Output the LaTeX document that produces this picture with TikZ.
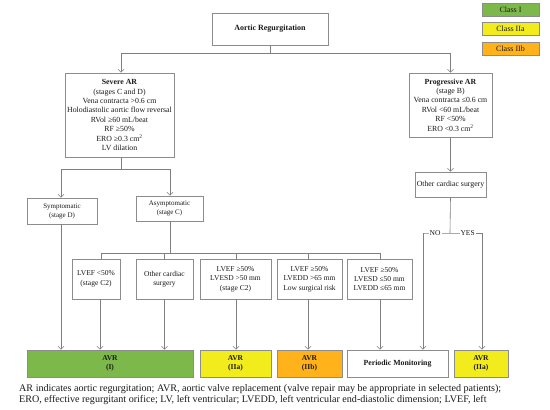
\documentclass[tikz,border=0pt]{standalone}
\usepackage{fontspec}
\setmainfont{Liberation Serif}
\usetikzlibrary{arrows.meta,calc}
\definecolor{cI}{HTML}{7DB94A}
\definecolor{cIIa}{HTML}{F2EC1C}
\definecolor{cIIb}{HTML}{FFB21A}
\definecolor{ln}{HTML}{7F7F7F}
\definecolor{bd}{HTML}{8C8C8C}
\definecolor{tx}{HTML}{1A1A1A}
\begin{document}
\begin{tikzpicture}[x=1pt,y=-1pt,
  box/.style={draw=bd,line width=0.7pt,fill=white,align=center,inner sep=1pt,
    font=\fontsize{7.5}{9.4}\selectfont,text=tx},
  sbox/.style={box,font=\fontsize{7.8}{9.4}\selectfont},
  tbox/.style={box,font=\fontsize{7}{9}\selectfont},
  lbox/.style={box,font=\fontsize{8}{9}\selectfont,minimum width=57,minimum height=13},
  conn/.style={draw=ln,line width=0.6pt},
  arr/.style={conn,-{Straight Barb[length=3pt,width=6pt]}},
  lab/.style={fill=white,inner sep=1pt,font=\fontsize{7.5}{8}\selectfont,text=tx},
]
\useasboundingbox[fill=white] (0,0) rectangle (550,410);

% legend
\node[lbox,fill=cI] (l1) at (510.5,9.5) {Class I};
\node[lbox,fill=cIIa] (l2) at (510.5,28.5) {Class IIa};
\node[lbox,fill=cIIb] (l3) at (510.5,48.5) {Class IIb};

% top
\node[box,font=\fontsize{8}{9.4}\selectfont,minimum width=116,minimum height=32] (ar) at (270,29) {\textbf{Aortic Regurgitation}};
\node[sbox,minimum width=109,minimum height=84] (sev) at (119.5,115)
 {\textbf{Severe AR}\\(stages C and D)\\Vena contracta >0.6 cm\\Holodiastolic aortic flow reversal\\RVol ≥60 mL/beat\\RF ≥50\%\\ERO ≥0.3 cm\textsuperscript{2}\\LV dilation};
\node[sbox,minimum width=83,minimum height=64] (prog) at (450.5,105)
 {\textbf{Progressive AR}\\(stage B)\\Vena contracta ≤0.6 cm\\RVol <60 mL/beat\\RF <50\%\\ERO <0.3 cm\textsuperscript{2}};
\node[sbox,minimum width=71,minimum height=25] (ocsr) at (450.5,184.5) {Other cardiac surgery};

\node[tbox,minimum width=70,minimum height=26] (sym) at (62,211) {Symptomatic\\(stage D)};
\node[tbox,minimum width=67,minimum height=25] (asym) at (169.5,208.5) {Asymptomatic\\(stage C)};

% middle row
\node[box,minimum width=48,minimum height=40] (c1) at (96,279) {LVEF <50\%\\(stage C2)};
\node[box,minimum width=57,minimum height=40] (c2) at (164.5,279) {Other cardiac\\surgery};
\node[box,minimum width=71,minimum height=40] (c3) at (235.5,279) {LVEF ≥50\%\\LVESD >50 mm\\(stage C2)};
\node[box,minimum width=65,minimum height=40] (c4) at (309.5,279) {LVEF ≥50\%\\LVEDD >65 mm\\Low surgical risk};
\node[box,minimum width=65,minimum height=40] (c5) at (379.5,279) {LVEF ≥50\%\\LVESD ≤50 mm\\LVEDD ≤65 mm};

% bottom row
\node[box,fill=cI,minimum width=166,minimum height=27] (b1) at (110,363.5) {\textbf{AVR}\\\textbf{(I)}};
\node[box,fill=cIIa,minimum width=71,minimum height=27] (b2) at (235.5,363.5) {\textbf{AVR}\\\textbf{(IIa)}};
\node[box,fill=cIIb,minimum width=65,minimum height=27] (b3) at (309.5,363.5) {\textbf{AVR}\\\textbf{(IIb)}};
\node[box,font=\fontsize{7.8}{9.4}\selectfont,minimum width=101,minimum height=27] (b4) at (397.5,363.5) {\textbf{Periodic Monitoring}};
\node[box,fill=cIIa,minimum width=54,minimum height=27] (b5) at (481,363.5) {\textbf{AVR}\\\textbf{(IIa)}};

% junction coordinates
\coordinate (j0) at (270,53);
\coordinate (j1) at (121,169);
\coordinate (j2) at (170,253);
\coordinate (j3) at (450,233);
\coordinate (jno) at (423,233);
\coordinate (jyes) at (482,233);

% connectors
\draw[conn] (ar.south) -- (j0);
\draw[arr] (j0) -| ([xshift=1.5pt]sev.north);
\draw[arr] (j0) -| (prog.north);
\draw[conn] (sev.south -| j1) -- (j1);
\draw[arr] (j1) -| ([xshift=-1pt]sym.north);
\draw[arr] (j1) -| ([xshift=0.5pt]asym.north);
\draw[arr] (prog.south) -- (ocsr.north);

\draw[conn] (asym.south -| j2) -- (j2);
\draw[conn] (j2) -| ([xshift=5pt]c1.north);
\draw[conn] (j2) -| ([xshift=0.5pt]c3.north);
\draw[conn] (j2) -| ([xshift=-1.5pt]c4.north);
\draw[conn] (j2) -- (c2.north |- j2) -- (c2.north);
\draw[conn] (c3.north |- j2) -| ([xshift=0.5pt]c5.north);

\draw[arr] ([xshift=-1pt]sym.south) -- ([xshift=-1pt]sym.south |- b1.north);
\draw[arr] ([xshift=4pt]c1.south) -- ([xshift=4pt]c1.south |- b1.north);
\draw[arr] (c2.south) -- (c2.south |- b1.north);
\draw[arr] ([xshift=0.5pt]c3.south) -- ([xshift=0.5pt]b2.north);
\draw[arr] ([xshift=-1.5pt]c4.south) -- ([xshift=-1.5pt]b3.north);
\draw[arr] ([xshift=0.5pt]c5.south) -- ([xshift=0.5pt]c5.south |- b4.north);

\draw[conn] (ocsr.south) -- (j3);
\draw[conn] (jno) -- node[lab,pos=0.45] (no) {NO} (j3) -- node[lab,pos=0.55] (yes) {YES} (jyes);
\draw[arr] (jno) -- (jno |- b4.north);
\draw[arr] (jyes) -- (jyes |- b5.north);

% caption
\node[anchor=north west,align=left,inner sep=0pt,font=\fontsize{10.1}{10.5}\selectfont,text=tx] (cap) at (19,384.5)
 {AR indicates aortic regurgitation; AVR, aortic valve replacement (valve repair may be appropriate in selected patients);\\
  ERO, effective regurgitant orifice; LV, left ventricular; LVEDD, left ventricular end-diastolic dimension; LVEF, left};
\end{tikzpicture}
\end{document}
